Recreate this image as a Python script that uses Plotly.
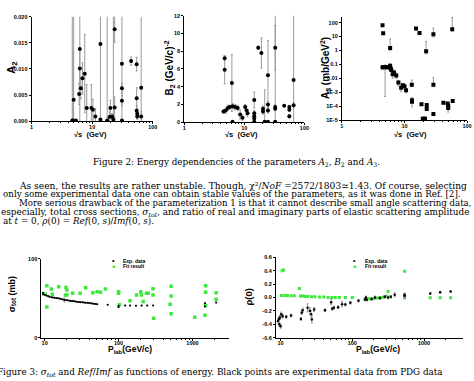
import plotly.graph_objects as go

W, H = 474, 381

# ---------------- data ----------------
# Figure 2, panel 1: A2 vs sqrt(s)
a2_s   = [4.7, 4.85, 4.95, 5.4, 6.1, 6.26, 6.26, 6.5, 6.93, 7.55, 8.14, 9.7, 10.3, 11.3,
          13.7, 13.7, 17.7, 19.4, 20.0, 21.3, 22.4, 23.5, 23.5, 31.0, 31.0, 31.0, 31.0,
          43.9, 54.3, 54.3, 54.3, 55.5, 55.5, 64.5, 64.5]
a2_val = [0.0001, 0.0001, 0.0041, 0.0001, 0.0052, 0.0138, 0.0101, 0.0063, 0.0082, 0.0091,
          0.0025, 0.0025, 0.0022, 0.0009, 0.0148, 0.0003, 0.0001, 0.0008, 0.0025, 0.0009,
          0.0003, 0.0176, 0.0026, 0.0110, 0.0063, 0.0039, 0.0001, 0.0115, 0.0109, 0.0044,
          0.0020, 0.0014, 0.0009, 0.0064, 0.0009]
a2_err = [0.03, 0.013, 0.03, 0.0, 0.002, 0.03, 0.003, 0.002, 0.003, 0.0075, 0.0045, 0.0045,
          0.002, 0.0015, 0.03, 0.0, 0.03, 0.001, 0.0015, 0.0005, 0.03, 0.0025, 0.002, 0.03,
          0.001, 0.001, 0.0, 0.0008, 0.0013, 0.002, 0.001, 0.001, 0.0005, 0.03, 0.001]

# Figure 2, panel 2: B2 vs sqrt(s)
b2_s   = [4.5, 4.7, 4.7, 4.9, 5.3, 5.7, 6.2, 6.35, 6.35, 7.0, 7.75, 8.5, 9.3, 10.3, 10.9, 11.3,
          14.6, 14.6, 14.6, 14.6, 14.6, 17.0, 19.2, 20.4, 20.4, 21.8, 24.7, 24.7, 24.7, 24.7,
          32.6, 32.6, 32.6, 32.6, 46.0, 56.0, 56.0, 56.0, 66.0, 66.0]
b2_val = [1.2, 7.2, 5.9, 1.3, 1.6, 1.7, 4.4, 1.8, 0.05, 1.7, 1.6, 0.85, 0.5, 1.7, 1.3, 1.0,
          2.5, 1.0, 0.67, 0.4, 0.05, 8.4, 7.8, 1.5, 1.2, 0.05, 5.3, 2.0, 1.3, 0.05,
          8.4, 1.7, 1.5, 0.05, 1.85, 1.7, 1.4, 0.65, 4.75, 1.9]
b2_err = [0.2, 0.3, 1.6, 0.3, 0.3, 0.2, 3.2, 0.3, 0.0, 0.3, 0.3, 0.5, 0.3, 0.3, 0.5, 0.4,
          0.9, 0.3, 0.3, 0.3, 0.0, 0.2, 1.7, 0.3, 0.3, 3.6, 3.9, 0.3, 0.3, 0.0,
          2.5, 0.3, 11.0, 0.0, 0.1, 0.2, 0.2, 0.2, 8.0, 0.3]

# Figure 2, panel 3: A3 vs sqrt(s)
a3_s   = [4.46, 4.57, 5.9, 4.46, 4.9, 5.25, 5.6, 5.9, 6.0, 6.15, 6.5, 6.8, 7.4, 8.0, 8.85,
          9.4, 10.0, 10.6, 13.1, 13.2, 13.2, 15.3, 17.4, 18.7, 19.6, 20.6, 21.3, 22.2, 22.7,
          22.7, 29.0, 29.0, 29.0, 41.9, 49.0, 50.0, 50.0, 59.0, 58.0]
a3_val = [65, 17, 1.5, 0.062, 0.062, 0.062, 0.062, 0.08, 0.052, 0.04, 0.02, 0.026, 0.016,
          0.0051, 0.0021, 0.0032, 0.0027, 0.0014, 0.0035, 2.7e-4, 2.1e-4, 38, 17.8, 1.4e-4,
          1.26e-5, 1.26e-5, 1.26e-5, 0.87, 1.2e-4, 6.3e-5, 14.4, 0.0035, 2.7e-5, 1.8e-4,
          1.55e-4, 1.07e-4, 7.3e-5, 2.4e-4, 34]
a3_up  = [10, 3, 5.3, 0.02, 0.03, 0.01, 0.01, 0.03, 0.02, 0.02, 0.01, 0.01, 0.008, 0.002,
          0.001, 0.001, 0.001, 0.0005, 0.004, 1.5e-4, 1e-4, 8, 3, 2e-5, 3e-6, 3e-6, 3e-6,
          3.5, 2e-5, 1e-5, 26, 0.008, 5e-6, 2e-5, 3e-5, 5e-5, 2e-5, 3e-5, 200]
a3_dn  = [10, 3, 0.5, 0.02, 0.0615, 0.01, 0.01, 0.02, 0.02, 0.02, 0.01, 0.01, 0.006, 0.002,
          0.001, 0.001, 0.001, 0.0005, 0.001, 1e-4, 1.2e-4, 8, 3, 2e-5, 2e-6, 2e-6, 2e-6,
          0.3, 2e-5, 1e-5, 5, 0.001, 5e-6, 2e-5, 3e-5, 4e-5, 3.5e-5, 3e-5, 10]

# Figure 3, left: total cross section vs p_lab
sig_exp_p = [9.5, 9.5, 10.0, 10.5, 11.1, 11.6, 12.3, 12.9, 13.6, 14.3, 15.1, 15.9, 16.7,
             17.6, 18.5, 19.5, 20.5, 21.6, 22.7, 23.9, 25.1, 26.4, 27.8, 29.3, 30.8, 32.4,
             34.1, 35.9, 37.8, 39.8, 41.9, 44.1, 46.4, 48.9, 51.4, 71.3, 100, 100, 123,
             143, 172, 205, 244, 293, 1475, 1475, 2090]
sig_exp_v = [57.0, 55.0, 54.5, 53.5, 52.9, 52.0, 51.3, 51.0, 50.8, 50.3, 50.0, 49.6, 49.2,
             48.5, 47.9, 47.7, 47.5, 47.0, 46.7, 46.5, 46.3, 45.8, 45.4, 45.2, 45.0, 44.8,
             44.6, 44.4, 44.2, 44.0, 43.8, 43.3, 42.9, 42.7, 42.5, 41.7, 40.4, 38.8, 40.8,
             40.8, 40.4, 40.8, 40.8, 40.8, 43.8, 39.6, 44.6]
sig_exp_e = [0.5, 0.5, 0.4, 0.4, 0.4, 0.3, 0.3, 0.3, 0.3, 0.3, 0.3, 0.3, 0.3, 0.3, 2.5,
             0.3, 0.3, 0.3, 0.3, 0.3, 0.3, 0.3, 0.3, 0.3, 0.3, 0.3, 0.3, 0.3, 0.3, 0.3, 0.3,
             0.3, 0.3, 0.3, 0.3, 0.3, 0.3, 0.3, 0.3, 0.3, 0.3, 0.3, 0.3, 0.3, 0.5, 0.5, 0.5]
sig_fit_p = [10.2, 10.7, 10.7, 12.3, 12.7, 15.5, 19.1, 19.4, 20.0, 20.0, 23.9, 30.2, 35.9,
             45.0, 51.4, 57.0, 66.4, 100, 100, 103, 143, 175, 200, 204, 215, 239, 251, 293,
             293, 299, 514, 514, 499, 514, 1075, 1505, 1505, 1505, 1475, 2090, 2090]
sig_fit_v = [55.0, 65.8, 38.8, 61.7, 55.0, 64.6, 54.2, 63.8, 60.4, 54.2, 56.3, 56.3, 63.3,
             57.0, 58.3, 57.5, 61.7, 58.3, 56.3, 41.7, 47.0, 54.2, 58.3, 54.2, 45.8, 56.3,
             56.3, 62.0, 54.2, 24.6, 65.4, 52.9, 42.5, 30.4, 25.8, 65.8, 57.5, 40.8, 28.3,
             57.0, 48.8]

# Figure 3, right: rho(0) vs p_lab
rho_exp_p = [9.2, 9.5, 9.8, 9.6, 10.0, 10.2, 10.7, 12.0, 14.0, 19.2, 19.7, 20.3, 23.8, 25.6,
             26.7, 27.3, 29.4, 41.6, 50.8, 52.5, 55.3, 63.5, 72, 80, 94, 122, 151, 155, 159,
             186, 207, 243, 284, 316, 344, 390, 537, 537, 1222, 1680, 2350]
rho_exp_v = [-0.35, -0.32, -0.30, -0.40, -0.43, -0.25, -0.28, -0.29, -0.27, -0.32, -0.23,
             -0.19, -0.155, -0.20, -0.25, -0.33, -0.18, -0.19, -0.07, -0.17, -0.155, -0.145,
             -0.10, -0.106, -0.08, -0.048, -0.03, 0.0, -0.034, -0.024, 0.0, -0.01, 0.01, 0.0,
             0.01, 0.04, 0.024, 0.04, 0.058, 0.077, 0.087]
rho_exp_e = [0.03, 0.03, 0.03, 0.03, 0.03, 0.03, 0.03, 0.02, 0.02, 0.02, 0.02, 0.03, 0.06,
             0.05, 0.05, 0.05, 0.03, 0.02, 0.04, 0.02, 0.02, 0.02, 0.04, 0.02, 0.02, 0.02,
             0.02, 0.02, 0.02, 0.02, 0.02, 0.02, 0.02, 0.02, 0.02, 0.03, 0.04, 0.02, 0.01,
             0.01, 0.01]
rho_fit_p = [10.5, 11.0, 18.3, 10.3, 11.5, 12.5, 14.0, 15.5, 19.0, 20.5, 22.0, 24.0, 27.0,
             30.0, 35.0, 40.0, 46.0, 52.0, 58.0, 66.0, 80.0, 100, 150, 165, 180, 200, 220,
             240, 260, 280, 300, 316, 537, 537, 537, 1222, 1680, 2350]
rho_fit_v = [0.40, 0.41, 0.135, 0.03, 0.03, 0.03, 0.025, 0.025, 0.02, 0.02, 0.015, 0.015,
             0.01, 0.01, 0.005, 0.005, 0.0, 0.0, 0.0, 0.0, 0.0, 0.0, -0.03, -0.02, -0.02,
             -0.015, -0.01, -0.005, 0.0, 0.01, 0.02, 0.09, 0.39, 0.015, -0.01, -0.005,
             -0.005, -0.005]

# tick labels
a2_ticks = [0.0, 0.005, 0.010, 0.015, 0.020]
a2_tick_text = ["0.000", "0.005", "0.010", "0.015", "0.020"]
b2_ticks = [0, 2, 4, 6, 8, 10, 12]
a3_ticks = [1e-5, 1e-4, 1e-3, 0.01, 0.1, 1, 10, 100]
a3_tick_text = ["1E-5", "1E-4", "1E-3", "0.01", "0.1", "1", "10", "100"]
s_ticks = [1, 10, 100]
p_ticks = [10, 100, 1000]
sig_ticks = [0, 100]
rho_ticks = [-0.6, -0.4, -0.2, 0.0, 0.2, 0.4, 0.6]
rho_tick_text = ["-0.6", "-0.4", "-0.2", "0.0", "0.2", "0.4", "0.6"]

# ---------------- helpers ----------------
def dx(a, b):
    return [a / W, b / W]

def dy(top, bottom):
    return [1 - bottom / H, 1 - top / H]

def P(x, y):
    return x / W, 1 - y / H

minor_s = [2, 3, 4, 5, 6, 7, 8, 9, 20, 30, 40, 50, 60, 70, 80, 90]
minor_p = [20, 30, 40, 50, 60, 70, 80, 90, 200, 300, 400, 500, 600, 700, 800, 900, 2000]

TICKFONT = dict(family="Liberation Sans", size=5.5, color="black", weight="bold")
GREY = "#9a9a9a"
GREEN = "#3de83d"

def xaxis_log(domain, rng, ticks, minor_vals, standoff=-2):
    return dict(type="log", domain=domain, range=rng, tickvals=ticks,
                ticktext=[str(t) for t in ticks], tickfont=TICKFONT,
                showline=True, linecolor="black", linewidth=1, ticks="outside",
                ticklen=2, tickcolor="black", showgrid=False, zeroline=False,
                ticklabelstandoff=standoff,
                minor=dict(tickvals=minor_vals, ticks="outside", ticklen=1,
                           tickcolor="black", showgrid=False))

def yaxis_lin(domain, rng, ticks, text, anchor):
    return dict(domain=domain, range=rng, tickvals=ticks, ticktext=text,
                tickfont=TICKFONT, showline=True, linecolor="black", linewidth=1,
                ticks="outside", ticklen=2, tickcolor="black", showgrid=False,
                zeroline=False, anchor=anchor)

fig = go.Figure()

# A2
fig.add_trace(go.Scatter(x=a2_s, y=a2_val, mode="markers", xaxis="x", yaxis="y",
    marker=dict(color="black", size=4),
    error_y=dict(type="data", array=a2_err, color=GREY, thickness=1, width=1),
    showlegend=False))
# B2
fig.add_trace(go.Scatter(x=b2_s, y=b2_val, mode="markers", xaxis="x2", yaxis="y2",
    marker=dict(color="black", size=4),
    error_y=dict(type="data", array=b2_err, color=GREY, thickness=1, width=1),
    showlegend=False))
# A3
fig.add_trace(go.Scatter(x=a3_s, y=a3_val, mode="markers", xaxis="x3", yaxis="y3",
    marker=dict(color="black", size=4, symbol="square"),
    error_y=dict(type="data", array=a3_up, arrayminus=a3_dn, color=GREY,
                 thickness=1, width=1),
    showlegend=False))
# sigma_tot
fig.add_trace(go.Scatter(x=sig_fit_p, y=sig_fit_v, mode="markers", xaxis="x4", yaxis="y4",
    marker=dict(color=GREEN, size=3.5, symbol="square"), showlegend=False))
fig.add_trace(go.Scatter(x=sig_exp_p, y=sig_exp_v, mode="markers", xaxis="x4", yaxis="y4",
    marker=dict(color="black", size=2),
    error_y=dict(type="data", array=sig_exp_e, color=GREY, thickness=1, width=1),
    showlegend=False))
# rho
fig.add_trace(go.Scatter(x=rho_fit_p, y=rho_fit_v, mode="markers", xaxis="x5", yaxis="y5",
    marker=dict(color=GREEN, size=3, symbol="square"), showlegend=False))
fig.add_trace(go.Scatter(x=rho_exp_p, y=rho_exp_v, mode="markers", xaxis="x5", yaxis="y5",
    marker=dict(color="black", size=2.5),
    error_y=dict(type="data", array=rho_exp_e, color=GREY, thickness=1, width=1),
    showlegend=False))

layout = dict(
    width=W, height=H, margin=dict(l=0, r=0, t=0, b=0),
    paper_bgcolor="white", plot_bgcolor="white",
    xaxis=xaxis_log(dx(30, 153), [0, 2], s_ticks, minor_s),
    yaxis=yaxis_lin(dy(14, 120), [0, 0.02], a2_ticks, a2_tick_text, "x"),
    xaxis2=xaxis_log(dx(185, 307), [0, 2], s_ticks, minor_s),
    yaxis2=yaxis_lin(dy(13, 121), [0, 12], b2_ticks, [str(t) for t in b2_ticks], "x2"),
    xaxis3=xaxis_log(dx(345, 472), [0, 2], s_ticks, minor_s),
    yaxis3=dict(type="log", domain=dy(14, 119), range=[-5, 2.42], tickvals=a3_ticks,
                ticktext=a3_tick_text, tickfont=TICKFONT, showline=True,
                linecolor="black", linewidth=1, ticks="outside", ticklen=2,
                tickcolor="black", showgrid=False, zeroline=False, anchor="x3"),
    xaxis4=xaxis_log(dx(40, 230), [0.956, 3.489], p_ticks, minor_p),
    yaxis4=yaxis_lin(dy(260, 340), [0, 100], sig_ticks, [str(t) for t in sig_ticks], "x4"),
    xaxis5=xaxis_log(dx(278, 468), [0.935, 3.545], p_ticks, minor_p),
    yaxis5=yaxis_lin(dy(258.3, 340), [-0.6, 0.6], rho_ticks, rho_tick_text, "x5"),
)
for k in ["xaxis", "xaxis2", "xaxis3", "xaxis4", "xaxis5"]:
    layout[k]["anchor"] = "y" + k[5:]
fig.update_layout(**layout)

ann = []
def add(text, x, y, size=8, family="Liberation Sans", angle=0, xanchor="center",
        color="black"):
    px, py = P(x, y)
    ann.append(dict(text=text, x=px, y=py, xref="paper", yref="paper", showarrow=False,
                    textangle=angle, xanchor=xanchor, yanchor="middle",
                    font=dict(size=size, family=family, color=color)))

# axis titles
add("<b>A<sub>2</sub></b>", 10, 66, size=11, angle=-90)
add("<b>√s  (GeV)</b>", 90, 134, size=7.5)
add("<b>B<sub>2</sub> (GeV/c)<sup>-2</sup></b>", 170, 66, size=10, angle=-90)
add("<b>√s  (GeV)</b>", 243, 134, size=7.5)
add("<b>A<sub>3</sub> (mb/GeV<sup>2</sup>)</b>", 329, 66, size=10, angle=-90)
add("<b>√s  (GeV)</b>", 415, 134, size=7.5)
add("<b>σ<sub>tot</sub> (mb)</b>", 10, 296, size=9, angle=-90)
add("<b>ρ(0)</b>", 250, 298, size=9.5, angle=-90)
add("<b>P<sub>lab</sub>(GeV/c)</b>", 130, 352, size=8.5)
add("<b>P<sub>lab</sub>(GeV/c)</b>", 382, 352, size=8.5)

# legends
add("<b>•</b>", 113, 262, size=7)
add("<b>Exp. data</b>", 121, 262, size=5, xanchor="left")
add("■", 113, 267.5, size=5, color=GREEN)
add("<b>Fit result</b>", 121, 267.5, size=5, xanchor="left")
add("<b>•</b>", 358, 262, size=7)
add("<b>Exp. data</b>", 366, 262, size=5, xanchor="left")
add("■", 358, 267.5, size=5, color=GREEN)
add("<b>Fit result</b>", 366, 267.5, size=5, xanchor="left")

# page text
SERIF = "DejaVu Serif"
TS = 8.8
add("Figure 2: Energy dependencies of the parameters <i>A</i><sub>2</sub>, "
    "<i>B</i><sub>2</sub> and <i>A</i><sub>3</sub>.", 238, 162.5, size=TS, family=SERIF)
add("As seen, the results are rather unstable. Though, χ²/<i>NoF</i> "
    "=2572/1803≃1.43. Of course, selecting", 15, 185.5, size=9.1, family=SERIF,
    xanchor="left")
add("only some experimental data one can obtain stable values of the parameters, as it "
    "was done in Ref. [2].", -1, 194.5, size=8.75, family=SERIF, xanchor="left")
add("More serious drawback of the parameterization 1 is that it cannot describe small "
    "angle scattering data,", 15, 203.5, size=8.6, family=SERIF, xanchor="left")
add("especially, total cross sections, <i>σ<sub>tot</sub></i>, and ratio of real and "
    "imaginary parts of elastic scattering amplitude", -3, 212.5, size=8.9, family=SERIF,
    xanchor="left")
add("at <i>t</i> = 0, <i>ρ</i>(0) = <i>Ref</i>(0, <i>s</i>)/<i>Imf</i>(0, <i>s</i>).",
    -1, 221.5, size=TS, family=SERIF, xanchor="left")
add("Figure 3: <i>σ<sub>tot</sub></i> and <i>Ref</i>/<i>Imf</i> as functions of energy. "
    "Black points are experimental data from PDG data", -7, 375, size=TS, family=SERIF,
    xanchor="left")

fig.update_layout(annotations=ann)
fig.write_html("out.html", post_script="document.body.style.margin='0px';",
               config={"displayModeBar": False})
